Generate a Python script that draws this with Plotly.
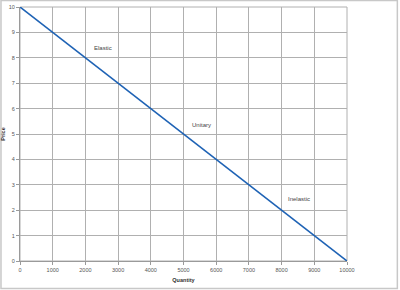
import plotly.graph_objects as go

quantity = [0, 10000]
price = [10, 0]
labels = ["Elastic", "Unitary", "Inelastic"]
label_x = [2200, 5200, 8130]
label_y = [8.4, 5.35, 2.45]

W, H = 400, 290
L, R, T, B = 20, 53.3, 7, 29
pw, ph = W - L - R, H - T - B

fig = go.Figure()
fig.add_trace(go.Scatter(x=quantity, y=price, mode="lines",
                         line=dict(color="#1f63b5", width=1.6), showlegend=False))
for t, x, y in zip(labels, label_x, label_y):
    fig.add_annotation(x=x, y=y, text=t, showarrow=False, xanchor="left",
                       font=dict(size=6, color="#444", family="Liberation Sans"))

axis_common = dict(showgrid=True, gridcolor="#b0b0b0", gridwidth=1,
                   showline=True, linecolor="#9a9a9a", linewidth=1,
                   ticks="outside", ticklen=3, tickcolor="#9a9a9a",
                   tickfont=dict(size=5.5, color="#555", family="Liberation Sans"),
                   zeroline=False, mirror=False, automargin=False)
fig.update_xaxes(range=[0, 10000], dtick=1000, tick0=0, tickformat="d",
                 title=dict(text="<b>Quantity</b>", font=dict(size=5.5, color="#333", family="Liberation Sans"), standoff=6),
                 **axis_common)
fig.update_yaxes(range=[0, 10], dtick=1, tick0=0, tickformat="d",
                 title=dict(text="<b>Price</b>", font=dict(size=5.5, color="#333", family="Liberation Sans"), standoff=3),
                 **axis_common)
fig.add_shape(type="rect", xref="paper", yref="paper", x0=0, x1=1, y0=0, y1=1,
              line=dict(color="#b0b0b0", width=1), layer="below")
fig.add_shape(type="rect", xref="paper", yref="paper",
              x0=(1 - L) / pw, x1=(397 - L) / pw,
              y0=(H - B - 288.5) / ph, y1=(H - B - 0.5) / ph,
              line=dict(color="#c8c8c8", width=1.5))

fig.update_layout(width=W, height=H, margin=dict(l=L, r=R, t=T, b=B),
                  plot_bgcolor="white", paper_bgcolor="white")
fig.write_html("out.html")
